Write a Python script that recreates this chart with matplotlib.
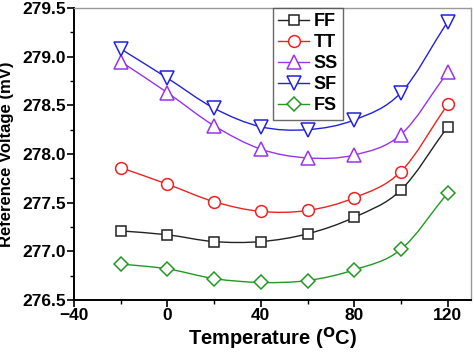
import numpy as np
import matplotlib
matplotlib.use("Agg")
import matplotlib.pyplot as plt
from matplotlib.path import Path
from matplotlib.patches import PathPatch

temps = [-20, 0, 20, 40, 60, 80, 100, 120]
ff = [277.21, 277.17, 277.10, 277.10, 277.18, 277.35, 277.63, 278.28]
tt = [277.86, 277.69, 277.51, 277.41, 277.42, 277.55, 277.82, 278.51]
ss = [278.95, 278.63, 278.29, 278.05, 277.96, 277.99, 278.20, 278.84]
sf = [279.08, 278.78, 278.47, 278.28, 278.25, 278.35, 278.63, 279.36]
fs = [276.87, 276.82, 276.72, 276.68, 276.70, 276.81, 277.02, 277.60]

names = ["FF", "TT", "SS", "SF", "FS"]
series = [ff, tt, ss, sf, fs]
colors = ["#222222", "#ee2222", "#9933ee", "#2222dd", "#229922"]
markers = ["s", "o", "^", "v", "D"]
msizes = [7.5, 8.5, 9.5, 9.5, 7.5]

plt.rcParams['font.family'] = ['Liberation Sans', 'DejaVu Sans']
plt.rcParams['font.weight'] = 'bold'

fig = plt.figure(figsize=(4.74, 3.53), dpi=100)
ax = fig.add_axes([74/474, 1-300/353, (471-74)/474, (300-8)/353])


def smooth_path(x, y):
    x = np.asarray(x, float)
    y = np.asarray(y, float)
    n = len(x)
    verts = [(x[0], y[0])]
    codes = [Path.MOVETO]
    for i in range(n - 1):
        p0 = (x[i-1], y[i-1]) if i > 0 else (2*x[0]-x[1], 2*y[0]-y[1])
        p1 = (x[i], y[i])
        p2 = (x[i+1], y[i+1])
        p3 = (x[i+2], y[i+2]) if i + 2 < n else (2*x[-1]-x[-2], 2*y[-1]-y[-2])
        c1 = (p1[0] + (p2[0]-p0[0])/6, p1[1] + (p2[1]-p0[1])/6)
        c2 = (p2[0] - (p3[0]-p1[0])/6, p2[1] - (p3[1]-p1[1])/6)
        verts += [c1, c2, p2]
        codes += [Path.CURVE4]*3
    return Path(verts, codes)


for name, vals, c, m, ms in zip(names, series, colors, markers, msizes):
    ax.add_patch(PathPatch(smooth_path(temps, vals), fill=False, edgecolor=c, lw=1.0, zorder=2))
    ax.plot(temps, vals, linestyle='none', marker=m, markersize=ms, markerfacecolor='white',
            markeredgecolor=c, markeredgewidth=1.1, zorder=3)
    ax.plot([], [], color=c, lw=1.0, marker=m, markersize=ms, markerfacecolor='white',
            markeredgecolor=c, markeredgewidth=1.1, label=name)

ax.set_xlim(-40, 130)
ax.set_ylim(276.5, 279.5)
ax.set_xticks([-40, 0, 40, 80, 120])
ax.set_xticks([-20, 20, 60, 100], minor=True)
ax.set_yticks([276.5, 277.0, 277.5, 278.0, 278.5, 279.0, 279.5])
ax.set_yticks(np.arange(276.75, 279.5, 0.5), minor=True)
ax.set_yticklabels(["276.5", "277.0", "277.5", "278.0", "278.5", "279.0", "279.5"])
ax.tick_params(axis='both', which='major', direction='out', length=5, width=1.2,
               labelsize=12.5, pad=1)
ax.tick_params(axis='both', which='minor', direction='out', length=3, width=1.0)
ax.tick_params(top=False, right=False)
for lab in ax.get_xticklabels() + ax.get_yticklabels():
    lab.set_fontweight('bold')

for s in ['left', 'bottom']:
    ax.spines[s].set_linewidth(1.4)
    ax.spines[s].set_color('black')
for s in ['top', 'right']:
    ax.spines[s].set_linewidth(1.0)
    ax.spines[s].set_color('#999999')

ax.set_xlabel("Temperature ($\\mathbf{^{O}}$C)", fontsize=14.5, fontweight='bold', labelpad=1)
ax.set_ylabel("Reference Voltage (mV)", fontsize=12, fontweight='bold', labelpad=6)

leg = ax.legend(loc='upper left', bbox_to_anchor=(199/397, 1.0), fontsize=13,
                frameon=True, fancybox=False, borderpad=0.3, labelspacing=0.22,
                handlelength=1.7, handletextpad=0.25, borderaxespad=0.0)
leg.get_frame().set_edgecolor('#444444')
leg.get_frame().set_linewidth(1.0)
for t in leg.get_texts():
    t.set_fontweight('bold')

fig.savefig("out.png", dpi=100)
